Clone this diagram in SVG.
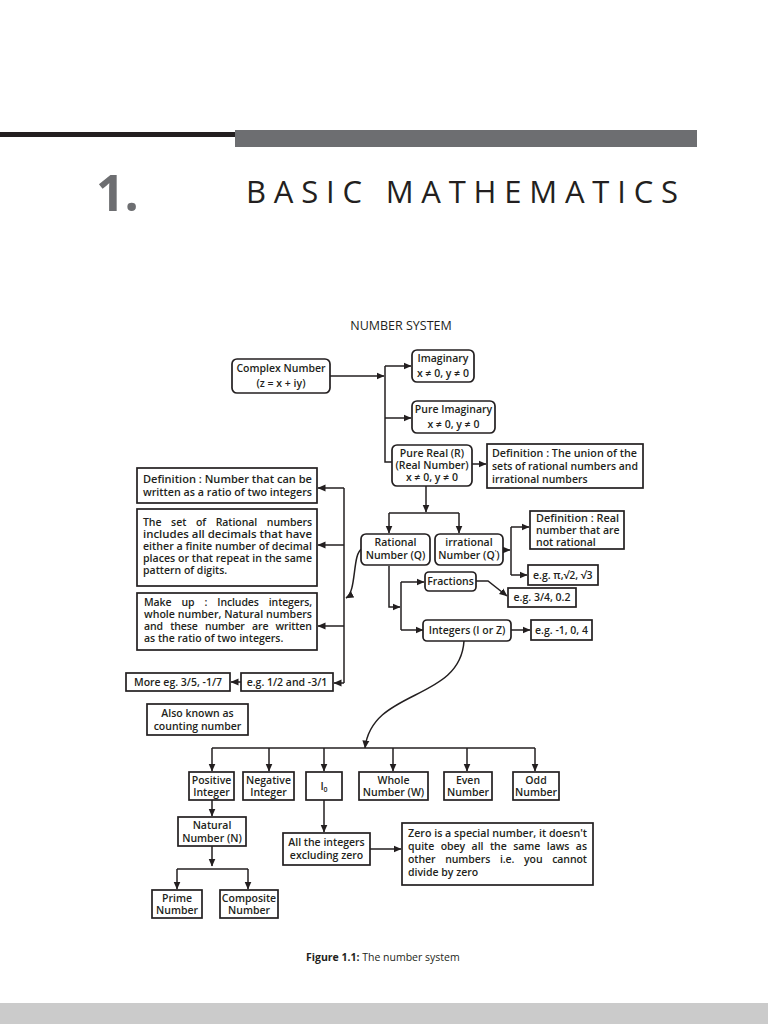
<svg xmlns="http://www.w3.org/2000/svg" width="768" height="1024" viewBox="0 0 768 1024">
<defs>
<marker id="ah" markerUnits="userSpaceOnUse" markerWidth="8" markerHeight="8" refX="7.5" refY="4" orient="auto">
<path d="M0,0.5 L8,4 L0,7.5 z" fill="#231f20"/>
</marker>
<style>
text{font-family:"Open Sans","Noto Sans","Liberation Sans",sans-serif;fill:#231f20;font-size:10.5px;font-weight:600}
.c{text-anchor:middle}
.rb{fill:#fff;stroke:#231f20;stroke-width:1.7}
.sb{fill:#fff;stroke:#231f20;stroke-width:1.7}
.ln{fill:none;stroke:#231f20;stroke-width:1.5}
.ar{fill:none;stroke:#231f20;stroke-width:1.5;marker-end:url(#ah)}
</style>
</defs>
<rect width="768" height="1024" fill="#fff"/>
<!-- header -->
<rect x="0" y="132" width="236" height="5" fill="#231f20"/>
<rect x="235" y="130" width="462" height="17" fill="#6d6e71"/>
<text x="96" y="211" style="font-size:50px;font-weight:bold;fill:#6d6e71">1.</text>
<text x="246" y="203" textLength="438" lengthAdjust="spacing" style="font-size:31px;font-weight:400;fill:#231f20;letter-spacing:6px">BASIC MATHEMATICS</text>
<text x="401" y="330" class="c" style="font-size:12.5px;font-weight:400">NUMBER SYSTEM</text>

<g id="connectors">
<path class="ar" d="M330,376 H384"/>
<path class="ln" d="M385,366 V462 H392"/>
<path class="ar" d="M385,366 H411"/>
<path class="ar" d="M385,418 H411"/>
<path class="ar" d="M472,464 H486"/>
<path class="ar" d="M426,486 V512"/>
<path class="ln" d="M389,513 H459"/>
<path class="ar" d="M389,513 V533"/>
<path class="ar" d="M459,513 V533"/>
<path class="ar" d="M503,550 H510"/>
<path class="ln" d="M511,527 V575"/>
<path class="ar" d="M511,527 H529"/>
<path class="ar" d="M511,575 H527"/>
<path class="ar" d="M362,549 C352,553 357,592 346,598"/>
<path class="ln" d="M344,488 V683"/>
<path class="ar" d="M344,488 H318"/>
<path class="ar" d="M344,545 H318"/>
<path class="ar" d="M344,626 H318"/>
<path class="ar" d="M344,683 H334"/>
<path class="ar" d="M241,682 H231"/>
<path class="ar" d="M389,566 V607 H400"/>
<path class="ln" d="M401,582 V630"/>
<path class="ar" d="M401,582 H424"/>
<path class="ar" d="M401,630 H423"/>
<path class="ar" d="M476,581 H488 L507,596"/>
<path class="ar" d="M511,630 H530"/>
<path class="ar" d="M464,641 C460,702 372,688 365,748"/>
<path class="ln" d="M212,748 H535"/>
<path class="ar" d="M212,748 V771"/>
<path class="ar" d="M269,748 V771"/>
<path class="ar" d="M324,748 V771"/>
<path class="ar" d="M393,748 V771"/>
<path class="ar" d="M467,748 V771"/>
<path class="ar" d="M535,748 V771"/>
<path class="ar" d="M212,800 V816"/>
<path class="ar" d="M212,846 V866"/>
<path class="ln" d="M177,869 H248"/>
<path class="ar" d="M177,869 V889"/>
<path class="ar" d="M248,869 V889"/>
<path class="ar" d="M324,800 V832"/>
<path class="ar" d="M370,849 H401"/>
</g>

<g id="complex"><rect class="rb" x="232" y="359" width="98" height="34" rx="5"/>
<text class="c" x="281" y="372">Complex Number</text><text class="c" x="281" y="387">(z = x + iy)</text></g>
<g id="imaginary"><rect class="rb" x="412" y="350" width="62" height="32" rx="5"/>
<text class="c" x="443" y="362">Imaginary</text><text class="c" x="443" y="377">x ≠ 0, y ≠ 0</text></g>
<g id="pureimag"><rect class="rb" x="412" y="401" width="83" height="32" rx="5"/>
<text class="c" x="453.5" y="413">Pure Imaginary</text><text class="c" x="453.5" y="428">x ≠ 0, y ≠ 0</text></g>
<g id="purereal"><rect class="rb" x="392" y="445" width="80" height="41" rx="5"/>
<text class="c" x="432" y="457">Pure Real (R)</text><text class="c" x="432" y="469">(Real Number)</text><text class="c" x="432" y="481">x ≠ 0, y ≠ 0</text></g>
<g id="realdef"><rect class="sb" x="487" y="444" width="156" height="44"/>
<text x="492" y="457" textLength="145" lengthAdjust="spacingAndGlyphs">Definition : The union of the</text>
<text x="492" y="470" textLength="146" lengthAdjust="spacingAndGlyphs">sets of rational numbers and</text>
<text x="492" y="483">irrational numbers</text></g>
<g id="rational"><rect class="rb" x="361" y="534" width="69" height="31" rx="5"/>
<text class="c" x="395.5" y="546">Rational</text><text class="c" x="395.5" y="559">Number (Q)</text></g>
<g id="irrational"><rect class="rb" x="435" y="534" width="68" height="31" rx="5"/>
<text class="c" x="469" y="546">irrational</text><text class="c" x="469" y="559">Number (Q<tspan dy="-4" font-size="7">'</tspan><tspan dy="4">)</tspan></text></g>
<g id="irrdef"><rect class="sb" x="530" y="511" width="94" height="38"/>
<text x="536" y="522" textLength="83" lengthAdjust="spacingAndGlyphs">Definition : Real</text><text x="536" y="534">number that are</text><text x="536" y="546">not rational</text></g>
<g id="irreg"><rect class="sb" x="528" y="565" width="70" height="20"/>
<text x="533" y="579">e.g. π,√2, √3</text></g>
<g id="fractions"><rect class="rb" x="425" y="572" width="51" height="19" rx="4"/>
<text class="c" x="450.5" y="585">Fractions</text></g>
<g id="fraceg"><rect class="sb" x="508" y="588" width="68" height="19"/>
<text class="c" x="542" y="601">e.g. 3/4, 0.2</text></g>
<g id="integers"><rect class="rb" x="423" y="620" width="88" height="21" rx="4"/>
<text class="c" x="467" y="634">Integers (I or Z)</text></g>
<g id="inteeg"><rect class="sb" x="531" y="620" width="61" height="20"/>
<text class="c" x="561.5" y="634">e.g. -1, 0, 4</text></g>

<g id="ratdef"><rect class="sb" x="137" y="468" width="180" height="35"/>
<text x="143" y="483" textLength="169" lengthAdjust="spacingAndGlyphs">Definition : Number that can be</text>
<text x="143" y="496" textLength="169" lengthAdjust="spacingAndGlyphs">written as a ratio of two integers</text></g>
<g id="ratset"><rect class="sb" x="137" y="509" width="180" height="77"/>
<text x="143" y="526" textLength="169" lengthAdjust="spacing" word-spacing="7">The set of Rational numbers</text>
<text x="143" y="538" textLength="169" lengthAdjust="spacingAndGlyphs">includes all decimals that have</text>
<text x="143" y="550" textLength="169" lengthAdjust="spacingAndGlyphs">either a finite number of decimal</text>
<text x="143" y="562" textLength="169" lengthAdjust="spacingAndGlyphs">places or that repeat in the same</text>
<text x="143" y="574">pattern of digits.</text></g>
<g id="makeup"><rect class="sb" x="137" y="593" width="180" height="57"/>
<text x="144" y="606" textLength="168" lengthAdjust="spacing" word-spacing="7.5">Make up : Includes integers,</text>
<text x="144" y="618" textLength="168" lengthAdjust="spacingAndGlyphs">whole number, Natural numbers</text>
<text x="144" y="630" textLength="168" lengthAdjust="spacing" word-spacing="4.5">and these number are written</text>
<text x="144" y="642">as the ratio of two integers.</text></g>
<g id="moreeg"><rect class="sb" x="126" y="673" width="104" height="18"/>
<text class="c" x="178" y="686">More eg. 3/5, -1/7</text></g>
<g id="eghalf"><rect class="sb" x="241" y="673" width="92" height="18"/>
<text class="c" x="287" y="686">e.g. 1/2 and -3/1</text></g>
<g id="alsoknown"><rect class="sb" x="147" y="704" width="101" height="31"/>
<text class="c" x="197.5" y="717">Also known as</text><text class="c" x="197.5" y="730">counting number</text></g>

<g id="positive"><rect class="sb" x="189" y="772" width="45" height="28"/>
<text class="c" x="211.5" y="784">Positive</text><text class="c" x="211.5" y="796">Integer</text></g>
<g id="negative"><rect class="sb" x="243" y="772" width="51" height="28"/>
<text class="c" x="268.5" y="784">Negative</text><text class="c" x="268.5" y="796">Integer</text></g>
<g id="i0"><rect class="sb" x="306" y="772" width="36" height="28"/>
<text class="c" x="324" y="790">I<tspan dy="2" font-size="7">0</tspan></text></g>
<g id="whole"><rect class="sb" x="359" y="772" width="69" height="28"/>
<text class="c" x="393.5" y="784">Whole</text><text class="c" x="393.5" y="796">Number (W)</text></g>
<g id="even"><rect class="sb" x="444" y="772" width="48" height="28"/>
<text class="c" x="468" y="784">Even</text><text class="c" x="468" y="796">Number</text></g>
<g id="odd"><rect class="sb" x="513" y="772" width="46" height="28"/>
<text class="c" x="536" y="784">Odd</text><text class="c" x="536" y="796">Number</text></g>
<g id="natural"><rect class="sb" x="178" y="817" width="68" height="29"/>
<text class="c" x="212" y="829">Natural</text><text class="c" x="212" y="842">Number (N)</text></g>
<g id="prime"><rect class="sb" x="152" y="890" width="50" height="28"/>
<text class="c" x="177" y="902">Prime</text><text class="c" x="177" y="914">Number</text></g>
<g id="composite"><rect class="sb" x="220" y="890" width="58" height="28"/>
<text class="c" x="249" y="902">Composite</text><text class="c" x="249" y="914">Number</text></g>
<g id="allint"><rect class="sb" x="283" y="833" width="87" height="32"/>
<text class="c" x="326.5" y="846">All the integers</text><text class="c" x="326.5" y="859">excluding zero</text></g>
<g id="zero"><rect class="sb" x="402" y="823" width="191" height="62"/>
<text x="408" y="837" textLength="179" lengthAdjust="spacingAndGlyphs">Zero is a special number, it doesn't</text>
<text x="408" y="850" textLength="179" lengthAdjust="spacing" word-spacing="3.8">quite obey all the same laws as</text>
<text x="408" y="863" textLength="179" lengthAdjust="spacing" word-spacing="7">other numbers i.e. you cannot</text>
<text x="408" y="876">divide by zero</text></g>

<text x="306" y="961" style="font-size:10.5px;font-weight:400"><tspan font-weight="bold">Figure 1.1:</tspan> The number system</text>
<rect x="0" y="1003" width="768" height="21" fill="#cbcbcb"/>
</svg>
